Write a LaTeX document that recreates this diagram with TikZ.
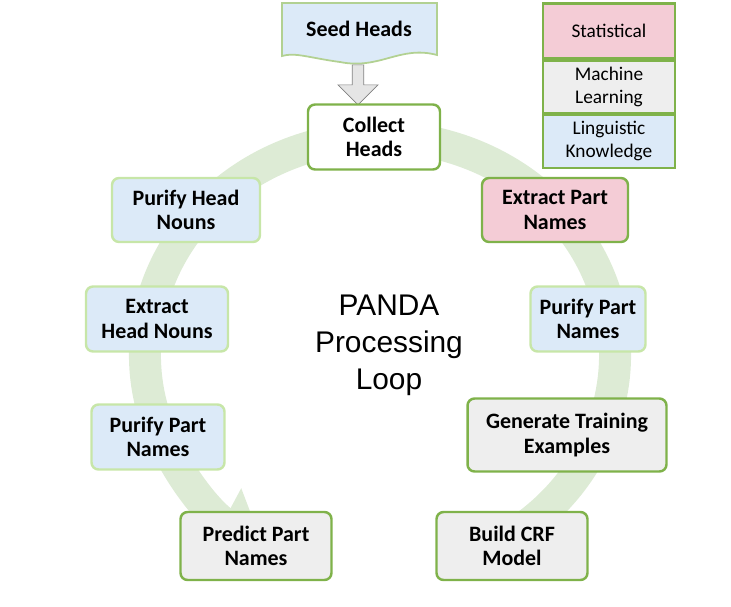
\documentclass[tikz,border=0pt]{standalone}
\usepackage{fontspec}
\setmainfont{Carlito}
\newfontfamily\arialfont{Liberation Sans}
\usetikzlibrary{arrows.meta,shapes.arrows}
\definecolor{ringgreen}{HTML}{DDEBD5}
\definecolor{boxgreen}{HTML}{7FB24A}
\definecolor{statpink}{HTML}{F4CCD6}
\definecolor{mlgray}{HTML}{EEEEEE}
\definecolor{lingblue}{HTML}{DCEAF8}
\definecolor{lightrim}{HTML}{C7E6A8}
\begin{document}
\begin{tikzpicture}[x=0.02cm,y=-0.02cm,
    pstep/.style={rectangle,rounded corners=4pt,draw=boxgreen,line width=1.4pt,align=center,
      font=\fontsize{12.5}{14}\selectfont\bfseries,inner sep=2pt},
    lingstep/.style={pstep,draw=lightrim,fill=lingblue},
    legend/.style={rectangle,draw=boxgreen,line width=1.2pt,align=center,minimum width=2.64cm,
      font=\fontsize{11}{13}\selectfont}]
  \useasboundingbox (0,0) rectangle (731,606);

  % loop ring
  \draw[ringgreen,line width=0.64cm,-{Triangle[length=0.9cm,width=1.5cm]}]
    (380,355) ++(72:235 and 218) arc[start angle=72,end angle=-240,x radius=235,y radius=218];

  % seed heads and arrow
  \draw[boxgreen!60,line width=1pt,fill=lingblue] (282,3) -- (437,3) -- (437,55)
    .. controls (400,45) and (380,70) .. (340,62) .. controls (310,58) and (295,52) .. (282,56) -- cycle;
  \node[font=\fontsize{12.5}{14}\selectfont\bfseries] (seed) at (359,29) {Seed Heads};
  \node[single arrow,shape border rotate=270,draw=gray,fill=gray!20,minimum height=0.8cm,
    minimum width=0.8cm,single arrow head extend=3pt,inner sep=1pt] (down) at (358,82) {};

  % steps
  \node[pstep,fill=white,minimum width=2.64cm,minimum height=1.3cm] (collect) at (374,137) {Collect\\Heads};
  \node[pstep,fill=statpink,minimum width=2.92cm,minimum height=1.28cm] (extract) at (555,210) {Extract Part\\Names};
  \node[lingstep,minimum width=2.3cm,minimum height=1.3cm] (purifyR) at (588,319) {Purify Part\\Names};
  \node[pstep,fill=mlgray,minimum width=3.98cm,minimum height=1.46cm] (train) at (567,435) {Generate Training\\Examples};
  \node[pstep,fill=mlgray,minimum width=3.02cm,minimum height=1.36cm] (crf) at (512,546) {Build CRF\\Model};
  \node[pstep,fill=mlgray,minimum width=3.02cm,minimum height=1.36cm] (predict) at (256,546) {Predict Part\\Names};
  \node[lingstep,minimum width=2.66cm,minimum height=1.3cm] (purifyL) at (158,437) {Purify Part\\Names};
  \node[lingstep,minimum width=2.84cm,minimum height=1.3cm] (headnouns) at (157,319) {Extract\\Head Nouns};
  \node[lingstep,minimum width=2.96cm,minimum height=1.28cm] (purifyH) at (186,210) {Purify Head\\Nouns};

  \node[font=\arialfont\fontsize{17}{21}\selectfont,align=center] (title) at (389,345) {PANDA\\Processing\\Loop};

  % legend
  \node[legend,fill=statpink,minimum height=1.1cm] (stat) at (609,31) {Statistical};
  \node[legend,fill=mlgray,minimum height=1.04cm,anchor=north] (ml) at (stat.south) {Machine\\Learning};
  \node[legend,fill=lingblue,minimum height=1.06cm,anchor=north] (ling) at (ml.south) {Linguistic\\Knowledge};
\end{tikzpicture}
\end{document}
